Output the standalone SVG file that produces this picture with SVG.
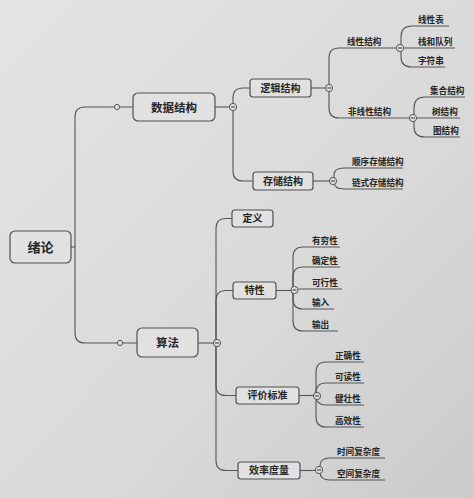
<svg xmlns="http://www.w3.org/2000/svg" width="474" height="498" viewBox="0 0 474 498">
<defs>
<linearGradient id="bg" x1="0" y1="0" x2="1" y2="1">
<stop offset="0" stop-color="#e4e4e4"/>
<stop offset="0.6" stop-color="#d9d9d9"/>
<stop offset="1" stop-color="#cbcbcb"/>
</linearGradient>
<style>
.box{fill:#e1e1e1;stroke:#505050;stroke-width:1.2}
.ln{fill:none;stroke:#555;stroke-width:1.1}
.dot{fill:#e0e0e0;stroke:#555;stroke-width:1}
.col{fill:#e0e0e0;stroke:#555;stroke-width:1}
.minus{stroke:#333;stroke-width:1}
text{font-family:"Noto Sans CJK SC","Noto Sans",sans-serif;fill:#262626;font-weight:bold}
.t1{font-size:13px;text-anchor:middle}
.t2{font-size:11.5px;text-anchor:middle}
.t3{font-size:10px;text-anchor:middle}
.t4{font-size:8.6px}
</style>
</defs>
<rect width="474" height="498" fill="url(#bg)"/>

<g id="connectors">
<!-- root -->
<path class="ln" d="M71,247 H75"/>
<path class="ln" d="M133,107 H85 Q75,107 75,117 V333 Q75,343 85,343 H137"/>
<!-- 数据结构 -->
<path class="ln" d="M215,107 H229.5"/>
<path class="ln" d="M250,88 H243 Q233,88 233,98 V171 Q233,181 243,181 H253"/>
<!-- 逻辑结构 -->
<path class="ln" d="M311,88 H325.5"/>
<path class="ln" d="M396.5,48 H339 Q329,48 329,58 V108 Q329,118 339,118 H409.5"/>
<!-- 线性结构 children -->
<path class="ln" d="M449,26 H412 Q401,26 401,37 V57 Q401,67 412,67 H445"/>
<path class="ln" d="M403.5,48 H455"/>
<!-- 非线性结构 children -->
<path class="ln" d="M465,97 H425 Q414,97 414,108 V127 Q414,137 425,137 H460"/>
<path class="ln" d="M416.5,118 H460"/>
<!-- 存储结构 -->
<path class="ln" d="M313,181 H329.5"/>
<path class="ln" d="M403,168 H344 Q334,168 334,175 V182 Q334,189 344,189 H403"/>
<!-- 算法 -->
<path class="ln" d="M198,343 H213.5"/>
<path class="ln" d="M232,218.5 H226 Q216,218.5 216,228.5 V460.5 Q216,470.5 226,470.5 H238"/>
<path class="ln" d="M216,343 V300.5 Q216,290.5 226,290.5 H233"/>
<path class="ln" d="M216,343 V385.5 Q216,395.5 226,395.5 H236"/>
<!-- 特性 -->
<path class="ln" d="M276,290.5 H291"/>
<path class="ln" d="M340,247 H303 Q293,247 293,257 V321 Q293,331 303,331 H338"/>
<path class="ln" d="M293,290 V277 Q293,267 303,267 H340"/>
<path class="ln" d="M298.5,289 H342"/>
<path class="ln" d="M293,290 V299 Q293,309 303,309 H334"/>
<!-- 评价标准 -->
<path class="ln" d="M299,395.5 H313.5"/>
<path class="ln" d="M364,362 H326 Q316,362 316,372 V417 Q316,427 326,427 H364"/>
<path class="ln" d="M316,396 V393 Q316,383 326,383 H364"/>
<path class="ln" d="M316,396 Q316,405 326,405 H364"/>
<!-- 效率度量 -->
<path class="ln" d="M300,470.5 H315.5"/>
<path class="ln" d="M385,458 H330 Q320,458 320,466 V472 Q320,480 330,480 H385"/>
<!-- small dots -->
<circle class="dot" cx="117" cy="107" r="2.6"/>
<circle class="dot" cx="120" cy="343" r="2.6"/>
<!-- collapse buttons -->
<g id="collapse">
<circle class="col" cx="233" cy="107" r="3.6"/><path class="minus" d="M231,107 H235"/>
<circle class="col" cx="329" cy="88" r="3.6"/><path class="minus" d="M327,88 H331"/>
<circle class="col" cx="400" cy="48" r="3.6"/><path class="minus" d="M398,48 H402"/>
<circle class="col" cx="413" cy="118" r="3.6"/><path class="minus" d="M411,118 H415"/>
<circle class="col" cx="333" cy="181" r="3.6"/><path class="minus" d="M331,181 H335"/>
<circle class="col" cx="217" cy="343" r="3.6"/><path class="minus" d="M215,343 H219"/>
<circle class="col" cx="294.5" cy="290" r="3.6"/><path class="minus" d="M292.5,290 H296.5"/>
<circle class="col" cx="317" cy="396" r="3.6"/><path class="minus" d="M315,396 H319"/>
<circle class="col" cx="319" cy="470" r="3.6"/><path class="minus" d="M317,470 H321"/>
</g>
</g>

<g id="root"><rect class="box" x="10" y="231" width="61" height="32" rx="5"/><text class="t1" x="40.5" y="252">绪论</text></g>
<g id="n-shujujiegou"><rect class="box" x="133" y="93" width="82" height="28" rx="5"/><text class="t2" x="174" y="111.5">数据结构</text></g>
<g id="n-suanfa"><rect class="box" x="137" y="328" width="61" height="29" rx="5"/><text class="t2" x="167.5" y="347">算法</text></g>

<g id="n-luoji"><rect class="box" x="250" y="79" width="61" height="18" rx="3"/><text class="t3" x="280.5" y="91.5">逻辑结构</text></g>
<g id="n-cunchu"><rect class="box" x="253" y="172" width="60" height="18" rx="3"/><text class="t3" x="283" y="184.5">存储结构</text></g>

<g id="n-xianxing"><text class="t4" x="347" y="45">线性结构</text></g>
<g id="n-feixianxing"><text class="t4" x="348" y="115">非线性结构</text></g>
<g id="n-xianxingbiao"><text class="t4" x="418" y="23">线性表</text></g>
<g id="n-zhan"><text class="t4" x="418" y="45">栈和队列</text></g>
<g id="n-zifuchuan"><text class="t4" x="418" y="64">字符串</text></g>
<g id="n-jihe"><text class="t4" x="430" y="94">集合结构</text></g>
<g id="n-shu"><text class="t4" x="432" y="115">树结构</text></g>
<g id="n-tu"><text class="t4" x="433" y="134">图结构</text></g>
<g id="n-shunxu"><text class="t4" x="352" y="165">顺序存储结构</text></g>
<g id="n-lianshi"><text class="t4" x="352" y="186">链式存储结构</text></g>

<g id="n-dingyi"><rect class="box" x="232" y="210" width="41" height="17" rx="3"/><text class="t3" x="252.5" y="222">定义</text></g>
<g id="n-texing"><rect class="box" x="233" y="282" width="43" height="17" rx="3"/><text class="t3" x="254.5" y="294">特性</text></g>
<g id="n-pingjia"><rect class="box" x="236" y="387" width="63" height="17" rx="3"/><text class="t3" x="267.5" y="399">评价标准</text></g>
<g id="n-xiaolv"><rect class="box" x="238" y="462" width="62" height="17" rx="3"/><text class="t3" x="269" y="474">效率度量</text></g>

<g id="n-youqiong"><text class="t4" x="312" y="244">有穷性</text></g>
<g id="n-queding"><text class="t4" x="312" y="264">确定性</text></g>
<g id="n-kexing"><text class="t4" x="312" y="286">可行性</text></g>
<g id="n-shuru"><text class="t4" x="312" y="306">输入</text></g>
<g id="n-shuchu"><text class="t4" x="312" y="328">输出</text></g>

<g id="n-zhengque"><text class="t4" x="335" y="359">正确性</text></g>
<g id="n-kedu"><text class="t4" x="335" y="380">可读性</text></g>
<g id="n-jianzhuang"><text class="t4" x="335" y="402">健壮性</text></g>
<g id="n-gaoxiao"><text class="t4" x="335" y="424">高效性</text></g>

<g id="n-shijian"><text class="t4" x="337" y="455">时间复杂度</text></g>
<g id="n-kongjian"><text class="t4" x="337" y="477">空间复杂度</text></g>
</svg>
